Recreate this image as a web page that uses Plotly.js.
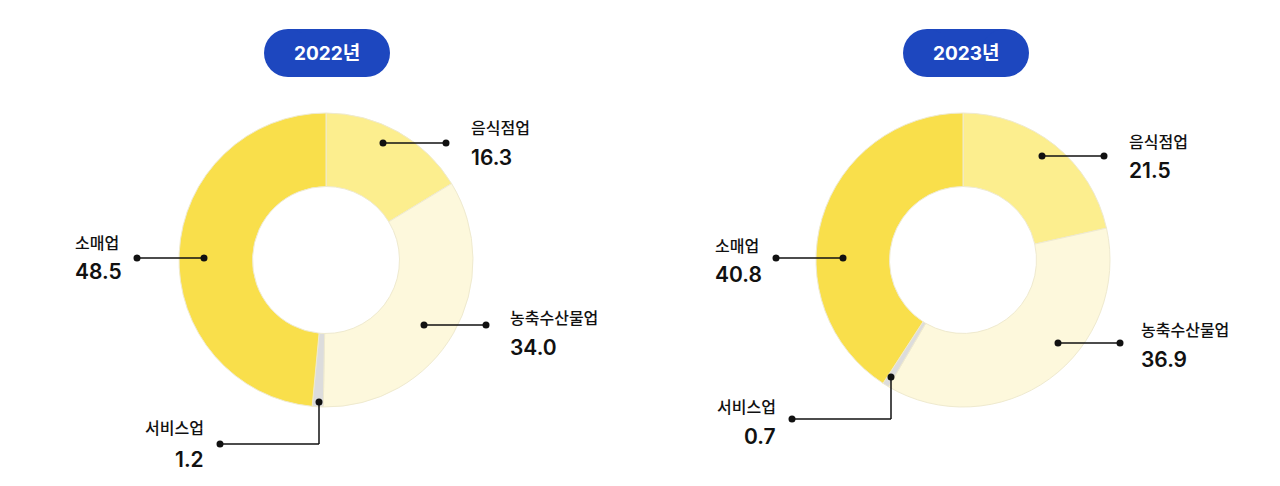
<!DOCTYPE html>
<html>
<head>
<meta charset="utf-8">
<script src="https://cdn.plot.ly/plotly-3.0.1.min.js"></script>
<style>html,body{margin:0;padding:0;background:#fff;}#chart{width:1280px;height:486px;}</style>
</head>
<body>
<div id="chart"></div>
<script>
// ---- data ----
const categories = ["음식점업", "농축수산물업", "서비스업", "소매업"];
const values2022 = [16.3, 34.0, 1.2, 48.5];
const values2023 = [21.5, 36.9, 0.7, 40.8];
const years = ["2022년", "2023년"];

// ---- styles / layout ----
const W = 1280, H = 486;
const colors = ["#FCEE8E", "#FDF8DC", "#DCDCDC", "#F9DF4B"];
const FONT = 'Inter, "Noto Sans CJK KR", "Noto Sans", sans-serif';
const px = x => x / W;
const py = y => 1 - y / H;

const donuts = [{cx: 326, cy: 260, r: 147, pill: 327}, {cx: 963, cy: 260, r: 147, pill: 966}];
const allValues = [values2022, values2023];

// label layout per chart, per category (pixel positions)
const labelLayout = [
  [
    {type: 'h', x1: 383, x2: 446, y: 143, tx: 469, ty1: 128, ty2: 157, align: 'left'},
    {type: 'h', x1: 424, x2: 486, y: 325, tx: 508, ty1: 318, ty2: 347, align: 'left'},
    {type: 'elbow', x1: 319, y1: 402, y2: 444, x2: 220, tx: 206, ty1: 428, ty2: 459, align: 'right'},
    {type: 'h', x1: 204, x2: 137, y: 258, tx: 73, ty1: 243, ty2: 271, align: 'left'}
  ],
  [
    {type: 'h', x1: 1042, x2: 1104, y: 156, tx: 1127, ty1: 142, ty2: 170, align: 'left'},
    {type: 'h', x1: 1058, x2: 1120, y: 343, tx: 1139, ty1: 330, ty2: 359, align: 'left'},
    {type: 'elbow', x1: 891, y1: 377, y2: 419, x2: 792, tx: 778, ty1: 407, ty2: 436, align: 'right'},
    {type: 'h', x1: 843, x2: 776, y: 258, tx: 713, ty1: 246, ty2: 274, align: 'left'}
  ]
];

const traces = donuts.map((d, i) => ({
  type: 'pie',
  labels: categories,
  values: allValues[i],
  hole: 0.5,
  sort: false,
  direction: 'clockwise',
  rotation: 0,
  textinfo: 'none',
  hoverinfo: 'label+value',
  marker: {colors: colors, line: {color: '#EFEACF', width: 1}},
  showlegend: false,
  domain: {
    x: [px(d.cx - d.r), px(d.cx + d.r)],
    y: [py(d.cy + d.r), py(d.cy - d.r)]
  }
}));

const shapes = [];
const annotations = [];

function dot(x, y) {
  shapes.push({type: 'circle', xref: 'paper', yref: 'paper', xsizemode: 'pixel', ysizemode: 'pixel',
    xanchor: px(x), yanchor: py(y), x0: -3.5, x1: 3.5, y0: -3.5, y1: 3.5,
    fillcolor: '#111', line: {width: 0}});
}
function seg(x0, y0, x1, y1) {
  shapes.push({type: 'line', xref: 'paper', yref: 'paper', x0: px(x0), y0: py(y0), x1: px(x1), y1: py(y1),
    line: {color: '#111', width: 1.5}});
}

donuts.forEach((d, i) => {
  const pc = d.pill, pw = 126, ph = 48, rr = ph / 2;
  const pillColor = '#1D47BF';
  shapes.push({type: 'rect', xref: 'paper', yref: 'paper', xsizemode: 'pixel', ysizemode: 'pixel',
    xanchor: px(pc), yanchor: py(53), x0: -(pw / 2 - rr), x1: (pw / 2 - rr), y0: -rr, y1: rr,
    fillcolor: pillColor, line: {width: 0}});
  [-1, 1].forEach(s => {
    shapes.push({type: 'circle', xref: 'paper', yref: 'paper', xsizemode: 'pixel', ysizemode: 'pixel',
      xanchor: px(pc), yanchor: py(53), x0: s * (pw / 2 - rr) - rr, x1: s * (pw / 2 - rr) + rr, y0: -rr, y1: rr,
      fillcolor: pillColor, line: {width: 0}});
  });
  annotations.push({xref: 'paper', yref: 'paper', x: px(pc), y: py(53), text: years[i], showarrow: false,
    xanchor: 'center', yanchor: 'middle', font: {family: FONT, size: 19, color: '#fff', weight: 700}});

  categories.forEach((c, k) => {
    const L = labelLayout[i][k];
    if (L.type === 'h') {
      seg(L.x1, L.y, L.x2, L.y);
      dot(L.x1, L.y); dot(L.x2, L.y);
    } else {
      seg(L.x1, L.y1, L.x1, L.y2);
      seg(L.x1, L.y2, L.x2, L.y2);
      dot(L.x1, L.y1); dot(L.x2, L.y2);
    }
    const xa = L.align === 'right' ? 'right' : 'left';
    annotations.push({xref: 'paper', yref: 'paper', x: px(L.tx), y: py(L.ty1), text: c, showarrow: false,
      xanchor: xa, yanchor: 'middle', font: {family: FONT, size: 16, color: '#111', weight: 500}});
    annotations.push({xref: 'paper', yref: 'paper', x: px(L.tx), y: py(L.ty2),
      text: allValues[i][k].toFixed(1), showarrow: false,
      xanchor: xa, yanchor: 'middle', font: {family: FONT, size: 21, color: '#111', weight: 600}});
  });
});

const layout = {
  width: W, height: H,
  margin: {l: 0, r: 0, t: 0, b: 0},
  paper_bgcolor: '#fff',
  plot_bgcolor: '#fff',
  shapes: shapes,
  annotations: annotations,
  showlegend: false
};

Plotly.newPlot('chart', traces, layout, {displayModeBar: false, staticPlot: true});
</script>
</body>
</html>
